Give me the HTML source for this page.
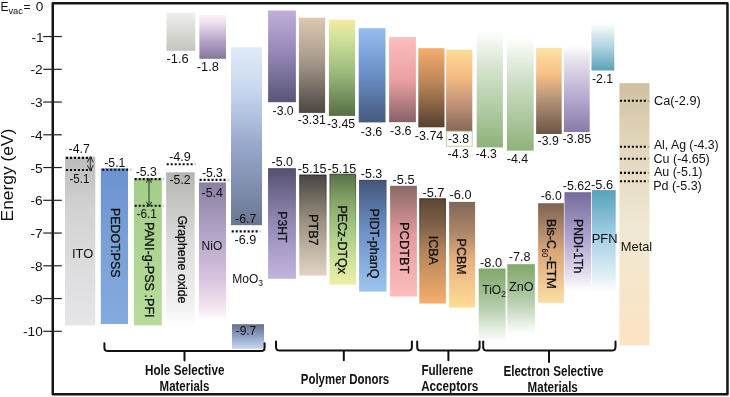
<!DOCTYPE html>
<html><head><meta charset="utf-8"><title>Energy level diagram</title>
<style>
html,body{margin:0;padding:0;background:#fff;}
svg{display:block;font-family:"Liberation Sans",Arial,Helvetica,sans-serif;}
</style></head><body>
<svg width="730" height="397" viewBox="0 0 730 397">
<defs>
<linearGradient id="g0" x1="0" y1="0" x2="0" y2="1"><stop offset="0" stop-color="#bcbcbc"/><stop offset="0.3" stop-color="#d2d2d3"/><stop offset="1" stop-color="#e6e6e8"/></linearGradient>
<linearGradient id="g1" x1="0" y1="0" x2="0" y2="1"><stop offset="0" stop-color="#6b93cf"/><stop offset="0.5" stop-color="#7aa0d6"/><stop offset="1" stop-color="#84abe0"/></linearGradient>
<linearGradient id="g2" x1="0" y1="0" x2="0" y2="1"><stop offset="0" stop-color="#a3ce88"/><stop offset="1" stop-color="#b8dc9c"/></linearGradient>
<linearGradient id="g3" x1="0" y1="0" x2="0" y2="1"><stop offset="0" stop-color="#efefef"/><stop offset="1" stop-color="#c4c4bc"/></linearGradient>
<linearGradient id="g4" x1="0" y1="0" x2="0" y2="1"><stop offset="0" stop-color="#b4b4b0"/><stop offset="0.45" stop-color="#dcdcdc"/><stop offset="0.85" stop-color="#f0f0f0"/><stop offset="1" stop-color="#ffffff"/></linearGradient>
<linearGradient id="g5" x1="0" y1="0" x2="0" y2="1"><stop offset="0" stop-color="#fdf3f8"/><stop offset="0.2" stop-color="#eadcea"/><stop offset="0.6" stop-color="#b4a2c6"/><stop offset="1" stop-color="#84779a"/></linearGradient>
<linearGradient id="g6" x1="0" y1="0" x2="0" y2="1"><stop offset="0" stop-color="#8a80a2"/><stop offset="0.35" stop-color="#b0a2c6"/><stop offset="0.7" stop-color="#d8c4e0"/><stop offset="0.9" stop-color="#f4e4f0"/><stop offset="1" stop-color="#ffffff"/></linearGradient>
<linearGradient id="g7" x1="0" y1="0" x2="0" y2="1"><stop offset="0" stop-color="#e0ebf7"/><stop offset="0.25" stop-color="#c6d6ee"/><stop offset="0.55" stop-color="#98a8cc"/><stop offset="0.8" stop-color="#7f8cac"/><stop offset="1" stop-color="#6a7690"/></linearGradient>
<linearGradient id="g8" x1="0" y1="0" x2="0" y2="1"><stop offset="0" stop-color="#647089"/><stop offset="0.4" stop-color="#8797bd"/><stop offset="1" stop-color="#c6d8f2"/></linearGradient>
<linearGradient id="g9" x1="0" y1="0" x2="0" y2="1"><stop offset="0" stop-color="#c0aed8"/><stop offset="0.45" stop-color="#9688b8"/><stop offset="1" stop-color="#595577"/></linearGradient>
<linearGradient id="g10" x1="0" y1="0" x2="0" y2="1"><stop offset="0" stop-color="#55516f"/><stop offset="0.45" stop-color="#9084b2"/><stop offset="1" stop-color="#c2b4de"/></linearGradient>
<linearGradient id="g11" x1="0" y1="0" x2="0" y2="1"><stop offset="0" stop-color="#dccab0"/><stop offset="0.45" stop-color="#a69a8c"/><stop offset="1" stop-color="#4b4641"/></linearGradient>
<linearGradient id="g12" x1="0" y1="0" x2="0" y2="1"><stop offset="0" stop-color="#474442"/><stop offset="0.45" stop-color="#9a9080"/><stop offset="1" stop-color="#e2d4c4"/></linearGradient>
<linearGradient id="g13" x1="0" y1="0" x2="0" y2="1"><stop offset="0" stop-color="#f5eba0"/><stop offset="0.2" stop-color="#cfe09a"/><stop offset="0.55" stop-color="#9cba7c"/><stop offset="1" stop-color="#566e46"/></linearGradient>
<linearGradient id="g14" x1="0" y1="0" x2="0" y2="1"><stop offset="0" stop-color="#587049"/><stop offset="0.25" stop-color="#86a668"/><stop offset="0.5" stop-color="#a6c886"/><stop offset="0.8" stop-color="#d0e49c"/><stop offset="1" stop-color="#eeeea4"/></linearGradient>
<linearGradient id="g15" x1="0" y1="0" x2="0" y2="1"><stop offset="0" stop-color="#95bdec"/><stop offset="0.45" stop-color="#6c94cc"/><stop offset="1" stop-color="#45597d"/></linearGradient>
<linearGradient id="g16" x1="0" y1="0" x2="0" y2="1"><stop offset="0" stop-color="#455579"/><stop offset="0.45" stop-color="#6c90c8"/><stop offset="1" stop-color="#9dc5ed"/></linearGradient>
<linearGradient id="g17" x1="0" y1="0" x2="0" y2="1"><stop offset="0" stop-color="#fbbdbd"/><stop offset="0.5" stop-color="#eca0a4"/><stop offset="1" stop-color="#866266"/></linearGradient>
<linearGradient id="g18" x1="0" y1="0" x2="0" y2="1"><stop offset="0" stop-color="#8a6864"/><stop offset="0.45" stop-color="#e49ca0"/><stop offset="1" stop-color="#fdbdbd"/></linearGradient>
<linearGradient id="g19" x1="0" y1="0" x2="0" y2="1"><stop offset="0" stop-color="#f5ad6d"/><stop offset="0.45" stop-color="#b88458"/><stop offset="1" stop-color="#563e2e"/></linearGradient>
<linearGradient id="g20" x1="0" y1="0" x2="0" y2="1"><stop offset="0" stop-color="#5a4634"/><stop offset="0.25" stop-color="#7e6046"/><stop offset="0.5" stop-color="#b4845a"/><stop offset="1" stop-color="#f5ad6d"/></linearGradient>
<linearGradient id="g21" x1="0" y1="0" x2="0" y2="1"><stop offset="0" stop-color="#fddd95"/><stop offset="0.35" stop-color="#f4b880"/><stop offset="0.62" stop-color="#c8987c"/><stop offset="1" stop-color="#866856"/></linearGradient>
<linearGradient id="g22" x1="0" y1="0" x2="0" y2="1"><stop offset="0" stop-color="#826658"/><stop offset="0.3" stop-color="#ae886a"/><stop offset="0.55" stop-color="#e8b080"/><stop offset="1" stop-color="#fddd95"/></linearGradient>
<linearGradient id="g23" x1="0" y1="0" x2="0" y2="1"><stop offset="0" stop-color="#ffffff"/><stop offset="0.15" stop-color="#ecf2e8"/><stop offset="0.4" stop-color="#ccdec4"/><stop offset="0.7" stop-color="#aec8a0"/><stop offset="1" stop-color="#8eb27a"/></linearGradient>
<linearGradient id="g24" x1="0" y1="0" x2="0" y2="1"><stop offset="0" stop-color="#82a86c"/><stop offset="0.3" stop-color="#9cbc8c"/><stop offset="0.6" stop-color="#c0d4b8"/><stop offset="0.85" stop-color="#e8f0e4"/><stop offset="1" stop-color="#ffffff"/></linearGradient>
<linearGradient id="g25" x1="0" y1="0" x2="0" y2="1"><stop offset="0" stop-color="#ffffff"/><stop offset="0.15" stop-color="#ecf2e8"/><stop offset="0.4" stop-color="#ccdec4"/><stop offset="0.7" stop-color="#aec8a0"/><stop offset="1" stop-color="#8eb27a"/></linearGradient>
<linearGradient id="g26" x1="0" y1="0" x2="0" y2="1"><stop offset="0" stop-color="#82a86c"/><stop offset="0.3" stop-color="#9cbc8c"/><stop offset="0.6" stop-color="#c0d4b8"/><stop offset="0.85" stop-color="#e8f0e4"/><stop offset="1" stop-color="#ffffff"/></linearGradient>
<linearGradient id="g27" x1="0" y1="0" x2="0" y2="1"><stop offset="0" stop-color="#fde3a5"/><stop offset="0.3" stop-color="#f8c088"/><stop offset="0.6" stop-color="#b49278"/><stop offset="1" stop-color="#6c5444"/></linearGradient>
<linearGradient id="g28" x1="0" y1="0" x2="0" y2="1"><stop offset="0" stop-color="#7e6250"/><stop offset="0.25" stop-color="#aa866a"/><stop offset="0.5" stop-color="#dca87c"/><stop offset="1" stop-color="#fddda5"/></linearGradient>
<linearGradient id="g29" x1="0" y1="0" x2="0" y2="1"><stop offset="0" stop-color="#ffffff"/><stop offset="0.12" stop-color="#ece8f0"/><stop offset="0.6" stop-color="#b6aace"/><stop offset="1" stop-color="#887aaa"/></linearGradient>
<linearGradient id="g30" x1="0" y1="0" x2="0" y2="1"><stop offset="0" stop-color="#766a9a"/><stop offset="0.5" stop-color="#b4a8d4"/><stop offset="0.85" stop-color="#e8e2f2"/><stop offset="1" stop-color="#ffffff"/></linearGradient>
<linearGradient id="g31" x1="0" y1="0" x2="0" y2="1"><stop offset="0" stop-color="#ffffff"/><stop offset="0.5" stop-color="#b0d4e0"/><stop offset="1" stop-color="#5aa2b6"/></linearGradient>
<linearGradient id="g32" x1="0" y1="0" x2="0" y2="1"><stop offset="0" stop-color="#56a2ba"/><stop offset="0.45" stop-color="#a4d0e4"/><stop offset="0.85" stop-color="#e4f0f6"/><stop offset="1" stop-color="#ffffff"/></linearGradient>
<linearGradient id="g33" x1="0" y1="0" x2="0" y2="1"><stop offset="0" stop-color="#cfc0a0"/><stop offset="0.2" stop-color="#e0d4b8"/><stop offset="0.55" stop-color="#f0e8d4"/><stop offset="1" stop-color="#fde3c1"/></linearGradient>
<linearGradient id="g34" x1="0" y1="0" x2="0" y2="1"><stop offset="0" stop-color="#000" stop-opacity="0.32"/><stop offset=".75" stop-color="#000" stop-opacity="0"/></linearGradient>
<linearGradient id="g35" x1="0" y1="0" x2="0" y2="1"><stop offset="0" stop-color="#000" stop-opacity="0.28"/><stop offset=".75" stop-color="#000" stop-opacity="0"/></linearGradient>
<linearGradient id="g36" x1="0" y1="0" x2="0" y2="1"><stop offset="0" stop-color="#000" stop-opacity="0.3"/><stop offset=".75" stop-color="#000" stop-opacity="0"/></linearGradient>
<linearGradient id="g37" x1="0" y1="0" x2="0" y2="1"><stop offset="0" stop-color="#000" stop-opacity="0.12"/><stop offset=".75" stop-color="#000" stop-opacity="0"/></linearGradient>
<linearGradient id="g38" x1="0" y1="0" x2="0" y2="1"><stop offset="0" stop-color="#000" stop-opacity="0.12"/><stop offset=".75" stop-color="#000" stop-opacity="0"/></linearGradient>
</defs>
<rect width="730" height="397" fill="#ffffff"/>
<rect x="65.00" y="156.80" width="30.30" height="168.60" fill="url(#g0)"/>
<rect x="100.80" y="168.30" width="27.20" height="155.70" fill="url(#g1)"/>
<rect x="134.00" y="178.30" width="27.80" height="147.10" fill="url(#g2)"/>
<rect x="166.50" y="12.50" width="28.80" height="38.30" fill="url(#g3)"/>
<rect x="166.10" y="172.30" width="28.60" height="154.70" fill="url(#g4)"/>
<rect x="199.40" y="15.00" width="26.60" height="43.80" fill="url(#g5)"/>
<rect x="199.00" y="182.40" width="27.00" height="138.60" fill="url(#g6)"/>
<rect x="231.00" y="47.30" width="31.00" height="177.90" fill="url(#g7)"/>
<rect x="232.00" y="324.20" width="32.00" height="24.60" fill="url(#g8)"/>
<rect x="268.10" y="10.50" width="27.80" height="91.70" fill="url(#g9)"/>
<rect x="268.10" y="168.20" width="27.80" height="110.60" fill="url(#g10)"/>
<rect x="298.90" y="17.70" width="26.20" height="95.20" fill="url(#g11)"/>
<rect x="299.30" y="174.60" width="27.20" height="101.00" fill="url(#g12)"/>
<rect x="328.90" y="19.70" width="26.20" height="96.20" fill="url(#g13)"/>
<rect x="329.50" y="173.80" width="26.60" height="110.90" fill="url(#g14)"/>
<rect x="358.70" y="28.20" width="26.80" height="94.20" fill="url(#g15)"/>
<rect x="359.10" y="179.90" width="27.40" height="111.70" fill="url(#g16)"/>
<rect x="389.10" y="37.10" width="26.80" height="85.10" fill="url(#g17)"/>
<rect x="390.10" y="185.80" width="26.80" height="110.70" fill="url(#g18)"/>
<rect x="418.30" y="48.20" width="26.20" height="79.10" fill="url(#g19)"/>
<rect x="419.30" y="198.30" width="26.60" height="105.20" fill="url(#g20)"/>
<rect x="446.10" y="49.80" width="26.20" height="81.50" fill="url(#g21)"/>
<rect x="449.10" y="201.90" width="26.00" height="105.70" fill="url(#g22)"/>
<rect x="476.70" y="30.00" width="26.20" height="117.40" fill="url(#g23)"/>
<rect x="478.70" y="268.50" width="26.90" height="73.50" fill="url(#g24)"/>
<rect x="506.90" y="37.00" width="26.80" height="113.60" fill="url(#g25)"/>
<rect x="507.30" y="264.20" width="27.60" height="69.80" fill="url(#g26)"/>
<rect x="536.10" y="47.90" width="25.60" height="86.10" fill="url(#g27)"/>
<rect x="538.10" y="203.20" width="25.80" height="99.70" fill="url(#g28)"/>
<rect x="563.90" y="46.00" width="25.80" height="86.00" fill="url(#g29)"/>
<rect x="564.50" y="192.20" width="26.60" height="98.80" fill="url(#g30)"/>
<rect x="591.50" y="23.00" width="22.80" height="47.50" fill="url(#g31)"/>
<rect x="591.90" y="190.10" width="23.80" height="102.90" fill="url(#g32)"/>
<rect x="619.40" y="83.20" width="30.10" height="262.00" fill="url(#g33)"/>
<path d="M299.80 275.60 V175.10 H326.00 V275.60" fill="none" stroke="url(#g34)" stroke-width="1"/>
<path d="M330.00 284.70 V174.30 H355.60 V284.70" fill="none" stroke="url(#g35)" stroke-width="1"/>
<path d="M419.80 303.50 V198.80 H445.40 V303.50" fill="none" stroke="url(#g36)" stroke-width="1"/>
<path d="M268.60 278.80 V168.70 H295.40 V278.80" fill="none" stroke="url(#g37)" stroke-width="1"/>
<path d="M359.60 291.60 V180.40 H386.00 V291.60" fill="none" stroke="url(#g38)" stroke-width="1"/>
<rect x="446.6" y="131.3" width="25.6" height="14.9" fill="#fff" stroke="#c6c8a2" stroke-width="1"/>
<rect x="52.75" y="3.2" width="674.7" height="391.1" fill="none" stroke="#161616" stroke-width="2.5" stroke-linejoin="round"/>
<path d="M43.2 36.55 H61.8" stroke="#222" stroke-width="1.2"/>
<path d="M43.2 69.30 H61.8" stroke="#222" stroke-width="1.2"/>
<path d="M43.2 102.05 H61.8" stroke="#222" stroke-width="1.2"/>
<path d="M43.2 134.80 H61.8" stroke="#222" stroke-width="1.2"/>
<path d="M43.2 167.55 H61.8" stroke="#222" stroke-width="1.2"/>
<path d="M43.2 200.30 H61.8" stroke="#222" stroke-width="1.2"/>
<path d="M43.2 233.05 H61.8" stroke="#222" stroke-width="1.2"/>
<path d="M43.2 265.80 H61.8" stroke="#222" stroke-width="1.2"/>
<path d="M43.2 298.55 H61.8" stroke="#222" stroke-width="1.2"/>
<path d="M43.2 331.30 H61.8" stroke="#222" stroke-width="1.2"/>
<path d="M66.00 157.85h2.05M69.98 157.85h2.05M73.96 157.85h2.05M77.94 157.85h2.05M81.92 157.85h2.05M85.90 157.85h2.05M89.88 157.85h2.05" stroke="#0a0a0a" stroke-width="2.1" fill="none"/>
<path d="M66.00 170.00h2.05M69.98 170.00h2.05M73.96 170.00h2.05M77.94 170.00h2.05M81.92 170.00h2.05M85.90 170.00h2.05M89.88 170.00h2.05" stroke="#0a0a0a" stroke-width="2.1" fill="none"/>
<path d="M102.20 169.70h2.05M106.18 169.70h2.05M110.16 169.70h2.05M114.14 169.70h2.05M118.12 169.70h2.05M122.10 169.70h2.05M126.08 169.70h2.05" stroke="#0a0a0a" stroke-width="2.1" fill="none"/>
<path d="M130.06 169.70h1.6" stroke="#000" stroke-opacity=".22" stroke-width="2" fill="none"/>
<path d="M134.70 179.10h2.05M138.68 179.10h2.05M142.66 179.10h2.05M146.64 179.10h2.05M150.62 179.10h2.05M154.60 179.10h2.05M158.58 179.10h2.05" stroke="#0a0a0a" stroke-width="2.1" fill="none"/>
<path d="M162.56 179.10h1.6" stroke="#000" stroke-opacity=".22" stroke-width="2" fill="none"/>
<path d="M134.70 205.70h2.05M138.68 205.70h2.05M142.66 205.70h2.05M146.64 205.70h2.05M150.62 205.70h2.05M154.60 205.70h2.05M158.58 205.70h2.05" stroke="#0a0a0a" stroke-width="2.1" fill="none"/>
<path d="M162.56 205.70h1.6" stroke="#000" stroke-opacity=".22" stroke-width="2" fill="none"/>
<path d="M166.70 164.25h2.05M170.68 164.25h2.05M174.66 164.25h2.05M178.64 164.25h2.05M182.62 164.25h2.05M186.60 164.25h2.05M190.58 164.25h2.05" stroke="#0a0a0a" stroke-width="2.1" fill="none"/>
<path d="M194.56 164.25h1.6" stroke="#000" stroke-opacity=".22" stroke-width="2" fill="none"/>
<path d="M199.60 179.90h2.05M203.58 179.90h2.05M207.56 179.90h2.05M211.54 179.90h2.05M215.52 179.90h2.05M219.50 179.90h2.05M223.48 179.90h2.05" stroke="#0a0a0a" stroke-width="2.1" fill="none"/>
<path d="M227.46 179.90h1.6" stroke="#000" stroke-opacity=".22" stroke-width="2" fill="none"/>
<path d="M231.70 231.40h2.05M235.68 231.40h2.05M239.66 231.40h2.05M243.64 231.40h2.05M247.62 231.40h2.05M251.60 231.40h2.05M255.58 231.40h2.05" stroke="#0a0a0a" stroke-width="2.1" fill="none"/>
<path d="M259.56 231.40h1.6" stroke="#000" stroke-opacity=".22" stroke-width="2" fill="none"/>
<path d="M619.95 100.80h2.05M623.93 100.80h2.05M627.91 100.80h2.05M631.89 100.80h2.05M635.87 100.80h2.05M639.85 100.80h2.05M643.83 100.80h2.05" stroke="#0a0a0a" stroke-width="2.1" fill="none"/>
<path d="M647.81 100.80h1.6" stroke="#000" stroke-opacity=".22" stroke-width="2" fill="none"/>
<path d="M619.95 146.80h2.05M623.93 146.80h2.05M627.91 146.80h2.05M631.89 146.80h2.05M635.87 146.80h2.05M639.85 146.80h2.05M643.83 146.80h2.05" stroke="#0a0a0a" stroke-width="2.1" fill="none"/>
<path d="M647.81 146.80h1.6" stroke="#000" stroke-opacity=".22" stroke-width="2" fill="none"/>
<path d="M619.95 158.70h2.05M623.93 158.70h2.05M627.91 158.70h2.05M631.89 158.70h2.05M635.87 158.70h2.05M639.85 158.70h2.05M643.83 158.70h2.05" stroke="#0a0a0a" stroke-width="2.1" fill="none"/>
<path d="M647.81 158.70h1.6" stroke="#000" stroke-opacity=".22" stroke-width="2" fill="none"/>
<path d="M619.95 172.90h2.05M623.93 172.90h2.05M627.91 172.90h2.05M631.89 172.90h2.05M635.87 172.90h2.05M639.85 172.90h2.05M643.83 172.90h2.05" stroke="#0a0a0a" stroke-width="2.1" fill="none"/>
<path d="M647.81 172.90h1.6" stroke="#000" stroke-opacity=".22" stroke-width="2" fill="none"/>
<path d="M619.95 181.20h2.05M623.93 181.20h2.05M627.91 181.20h2.05M631.89 181.20h2.05M635.87 181.20h2.05M639.85 181.20h2.05M643.83 181.20h2.05" stroke="#0a0a0a" stroke-width="2.1" fill="none"/>
<path d="M647.81 181.20h1.6" stroke="#000" stroke-opacity=".22" stroke-width="2" fill="none"/>
<path d="M90.30 156.80 V170.60 M87.30 162.20 L90.30 156.80 L93.30 162.20 M87.30 165.20 L90.30 170.60 L93.30 165.20" fill="none" stroke="#3c3c3c" stroke-width="1.05"/>
<path d="M149.00 178.40 V206.20 M146.30 182.80 L149.00 178.40 L151.70 182.80 M146.30 201.80 L149.00 206.20 L151.70 201.80" fill="none" stroke="#2f3a2f" stroke-width="1.05"/>
<path d="M104.40 343.30 V347.40 Q104.40 351.00 108.00 351.00 H261.00 Q264.60 351.00 264.60 347.40 V343.30 M184.50 351.00 V360.50" fill="none" stroke="#111" stroke-width="2" stroke-linecap="round"/>
<path d="M276.00 341.50 V347.00 Q276.00 350.60 279.60 350.60 H408.30 Q411.90 350.60 411.90 347.00 V341.50 M343.80 350.60 V360.30" fill="none" stroke="#111" stroke-width="2" stroke-linecap="round"/>
<path d="M417.20 341.50 V347.00 Q417.20 350.60 420.80 350.60 H476.00 Q479.60 350.60 479.60 347.00 V341.50 M448.40 350.60 V360.30" fill="none" stroke="#111" stroke-width="2" stroke-linecap="round"/>
<path d="M483.20 341.50 V347.00 Q483.20 350.60 486.80 350.60 H611.90 Q615.50 350.60 615.50 347.00 V341.50 M549.00 350.60 V362.00" fill="none" stroke="#111" stroke-width="2" stroke-linecap="round"/>
<text x="31.40" y="41.55" font-size="13" textLength="12.20" lengthAdjust="spacingAndGlyphs" fill="#111">-1</text>
<text x="30.50" y="74.30" font-size="13" textLength="12.20" lengthAdjust="spacingAndGlyphs" fill="#111">-2</text>
<text x="30.50" y="107.05" font-size="13" textLength="12.20" lengthAdjust="spacingAndGlyphs" fill="#111">-3</text>
<text x="30.50" y="139.80" font-size="13" textLength="12.20" lengthAdjust="spacingAndGlyphs" fill="#111">-4</text>
<text x="30.50" y="172.55" font-size="13" textLength="12.20" lengthAdjust="spacingAndGlyphs" fill="#111">-5</text>
<text x="30.50" y="205.30" font-size="13" textLength="12.20" lengthAdjust="spacingAndGlyphs" fill="#111">-6</text>
<text x="30.50" y="238.05" font-size="13" textLength="12.20" lengthAdjust="spacingAndGlyphs" fill="#111">-7</text>
<text x="30.50" y="270.80" font-size="13" textLength="12.20" lengthAdjust="spacingAndGlyphs" fill="#111">-8</text>
<text x="30.50" y="303.55" font-size="13" textLength="12.20" lengthAdjust="spacingAndGlyphs" fill="#111">-9</text>
<text x="23.10" y="336.30" font-size="13" textLength="19.60" lengthAdjust="spacingAndGlyphs" fill="#111">-10</text>
<text x="0.4" y="10.9" font-size="12" fill="#111">E<tspan font-size="9.4" dy="2.6">vac</tspan></text>
<text x="23.6" y="10.9" font-size="12" fill="#111">=</text>
<text x="35.7" y="10.9" font-size="12" fill="#111" textLength="7.6" lengthAdjust="spacingAndGlyphs">0</text>
<text transform="translate(13.30 221.40) rotate(-90)" font-size="17" textLength="92.60" lengthAdjust="spacingAndGlyphs" fill="#111">Energy (eV)</text>
<text x="166.50" y="62.90" font-size="12" textLength="22.20" lengthAdjust="spacingAndGlyphs" fill="#111">-1.6</text>
<text x="196.80" y="70.90" font-size="12" textLength="22.10" lengthAdjust="spacingAndGlyphs" fill="#111">-1.8</text>
<text x="68.60" y="152.80" font-size="12" textLength="21.10" lengthAdjust="spacingAndGlyphs" fill="#111">-4.7</text>
<text x="69.50" y="182.80" font-size="12" textLength="19.80" lengthAdjust="spacingAndGlyphs" fill="#111">-5.1</text>
<text x="104.30" y="166.70" font-size="12" textLength="21.10" lengthAdjust="spacingAndGlyphs" fill="#111">-5.1</text>
<text x="135.70" y="175.50" font-size="12" textLength="21.10" lengthAdjust="spacingAndGlyphs" fill="#111">-5.3</text>
<text x="136.50" y="218.20" font-size="12" textLength="20.30" lengthAdjust="spacingAndGlyphs" fill="#111">-6.1</text>
<text x="169.00" y="161.20" font-size="12" textLength="21.70" lengthAdjust="spacingAndGlyphs" fill="#111">-4.9</text>
<text x="169.50" y="184.00" font-size="12" textLength="21.20" lengthAdjust="spacingAndGlyphs" fill="#111">-5.2</text>
<text x="201.90" y="176.70" font-size="12" textLength="21.00" lengthAdjust="spacingAndGlyphs" fill="#111">-5.3</text>
<text x="201.50" y="196.50" font-size="12" textLength="21.40" lengthAdjust="spacingAndGlyphs" fill="#111">-5.4</text>
<text x="235.10" y="222.60" font-size="12" textLength="21.10" lengthAdjust="spacingAndGlyphs" fill="#111">-6.7</text>
<text x="234.50" y="243.70" font-size="12" textLength="21.70" lengthAdjust="spacingAndGlyphs" fill="#111">-6.9</text>
<text x="235.70" y="334.90" font-size="12" textLength="20.50" lengthAdjust="spacingAndGlyphs" fill="#111">-9.7</text>
<text x="272.60" y="115.30" font-size="12" textLength="21.00" lengthAdjust="spacingAndGlyphs" fill="#111">-3.0</text>
<text x="271.60" y="165.80" font-size="12" textLength="21.40" lengthAdjust="spacingAndGlyphs" fill="#111">-5.0</text>
<text x="297.80" y="124.40" font-size="12" textLength="28.10" lengthAdjust="spacingAndGlyphs" fill="#111">-3.31</text>
<text x="297.80" y="172.60" font-size="12" textLength="28.70" lengthAdjust="spacingAndGlyphs" fill="#111">-5.15</text>
<text x="327.00" y="127.80" font-size="12" textLength="28.10" lengthAdjust="spacingAndGlyphs" fill="#111">-3.45</text>
<text x="327.60" y="172.60" font-size="12" textLength="28.50" lengthAdjust="spacingAndGlyphs" fill="#111">-5.15</text>
<text x="360.80" y="135.50" font-size="12" textLength="21.50" lengthAdjust="spacingAndGlyphs" fill="#111">-3.6</text>
<text x="360.80" y="178.30" font-size="12" textLength="21.50" lengthAdjust="spacingAndGlyphs" fill="#111">-5.3</text>
<text x="390.00" y="135.30" font-size="12" textLength="21.60" lengthAdjust="spacingAndGlyphs" fill="#111">-3.6</text>
<text x="392.60" y="184.20" font-size="12" textLength="22.00" lengthAdjust="spacingAndGlyphs" fill="#111">-5.5</text>
<text x="414.80" y="140.00" font-size="12" textLength="28.50" lengthAdjust="spacingAndGlyphs" fill="#111">-3.74</text>
<text x="422.40" y="196.70" font-size="12" textLength="22.10" lengthAdjust="spacingAndGlyphs" fill="#111">-5.7</text>
<text x="448.00" y="143.40" font-size="12" textLength="21.00" lengthAdjust="spacingAndGlyphs" fill="#111">-3.8</text>
<text x="447.60" y="158.10" font-size="12" textLength="21.40" lengthAdjust="spacingAndGlyphs" fill="#111">-4.3</text>
<text x="449.60" y="198.90" font-size="12" textLength="21.90" lengthAdjust="spacingAndGlyphs" fill="#111">-6.0</text>
<text x="475.80" y="158.00" font-size="12" textLength="21.00" lengthAdjust="spacingAndGlyphs" fill="#111">-4.3</text>
<text x="480.10" y="266.70" font-size="12" textLength="22.10" lengthAdjust="spacingAndGlyphs" fill="#111">-8.0</text>
<text x="506.80" y="162.60" font-size="12" textLength="21.40" lengthAdjust="spacingAndGlyphs" fill="#111">-4.4</text>
<text x="508.80" y="260.60" font-size="12" textLength="21.60" lengthAdjust="spacingAndGlyphs" fill="#111">-7.8</text>
<text x="537.60" y="144.60" font-size="12" textLength="21.10" lengthAdjust="spacingAndGlyphs" fill="#111">-3.9</text>
<text x="540.70" y="200.10" font-size="12" textLength="21.00" lengthAdjust="spacingAndGlyphs" fill="#111">-6.0</text>
<text x="562.40" y="143.20" font-size="12" textLength="28.90" lengthAdjust="spacingAndGlyphs" fill="#111">-3.85</text>
<text x="562.80" y="189.50" font-size="12" textLength="28.10" lengthAdjust="spacingAndGlyphs" fill="#111">-5.62</text>
<text x="592.00" y="82.80" font-size="12" textLength="21.10" lengthAdjust="spacingAndGlyphs" fill="#111">-2.1</text>
<text x="591.00" y="188.50" font-size="12" textLength="22.10" lengthAdjust="spacingAndGlyphs" fill="#111">-5.6</text>
<text x="72.00" y="258.40" font-size="12" textLength="21.30" lengthAdjust="spacingAndGlyphs" fill="#111">ITO</text>
<text x="201.60" y="249.80" font-size="12" textLength="20.60" lengthAdjust="spacingAndGlyphs" fill="#111">NiO</text>
<text x="232.3" y="282.5" font-size="12" fill="#111">MoO<tspan font-size="8.5" dy="3">3</tspan></text>
<text x="482.3" y="294.1" font-size="12" fill="#111">TiO<tspan font-size="8.5" dy="3">2</tspan></text>
<text x="509.00" y="290.80" font-size="12" textLength="24.60" lengthAdjust="spacingAndGlyphs" fill="#111">ZnO</text>
<text x="591.70" y="243.00" font-size="12" textLength="25.80" lengthAdjust="spacingAndGlyphs" fill="#111">PFN</text>
<text x="620.80" y="251.10" font-size="12" textLength="31.40" lengthAdjust="spacingAndGlyphs" fill="#111">Metal</text>
<text x="654.10" y="105.20" font-size="12" textLength="46.60" lengthAdjust="spacingAndGlyphs" fill="#111">Ca(-2.9)</text>
<text x="653.90" y="149.40" font-size="12" textLength="64.80" lengthAdjust="spacingAndGlyphs" fill="#111">Al, Ag (-4.3)</text>
<text x="653.60" y="162.50" font-size="12" textLength="56.20" lengthAdjust="spacingAndGlyphs" fill="#111">Cu (-4.65)</text>
<text x="653.90" y="176.20" font-size="12" textLength="48.60" lengthAdjust="spacingAndGlyphs" fill="#111">Au (-5.1)</text>
<text x="653.20" y="190.30" font-size="12" textLength="48.60" lengthAdjust="spacingAndGlyphs" fill="#111">Pd (-5.3)</text>
<text transform="translate(110.60 208.00) rotate(90)" font-size="12.6" stroke="#111" stroke-width="0.3" textLength="69.60" lengthAdjust="spacingAndGlyphs" fill="#111">PEDOT:PSS</text>
<text transform="translate(144.60 222.00) rotate(90)" font-size="12.6" stroke="#111" stroke-width="0.3" textLength="95.60" lengthAdjust="spacingAndGlyphs" fill="#111">PANI-g-PSS :PFI</text>
<text transform="translate(178.00 215.50) rotate(90)" font-size="12.6" stroke="#111" stroke-width="0.3" textLength="88.00" lengthAdjust="spacingAndGlyphs" fill="#111">Graphene oxide</text>
<text transform="translate(278.40 211.20) rotate(90)" font-size="12.6" stroke="#111" stroke-width="0.3" textLength="31.40" lengthAdjust="spacingAndGlyphs" fill="#111">P3HT</text>
<text transform="translate(309.00 214.00) rotate(90)" font-size="12.6" stroke="#111" stroke-width="0.3" textLength="31.60" lengthAdjust="spacingAndGlyphs" fill="#111">PTB7</text>
<text transform="translate(338.00 205.50) rotate(90)" font-size="12.6" stroke="#111" stroke-width="0.3" textLength="68.40" lengthAdjust="spacingAndGlyphs" fill="#111">PECz-DTQx</text>
<text transform="translate(369.70 208.60) rotate(90)" font-size="12.6" stroke="#111" stroke-width="0.3" textLength="69.80" lengthAdjust="spacingAndGlyphs" fill="#111">PIDT-phanQ</text>
<text transform="translate(399.90 222.00) rotate(90)" font-size="12.6" stroke="#111" stroke-width="0.3" textLength="51.60" lengthAdjust="spacingAndGlyphs" fill="#111">PCDTBT</text>
<text transform="translate(428.80 235.70) rotate(90)" font-size="12.6" stroke="#111" stroke-width="0.3" textLength="29.30" lengthAdjust="spacingAndGlyphs" fill="#111">ICBA</text>
<text transform="translate(457.40 238.60) rotate(90)" font-size="12.6" stroke="#111" stroke-width="0.3" textLength="36.00" lengthAdjust="spacingAndGlyphs" fill="#111">PCBM</text>
<text transform="translate(573.60 219.00) rotate(90)" font-size="12.6" stroke="#111" stroke-width="0.3" textLength="54.20" lengthAdjust="spacingAndGlyphs" fill="#111">PNDI-1Th</text>
<text transform="translate(547.20 219.00) rotate(90)" font-size="12.6" stroke="#111" stroke-width="0.3" textLength="29.80" lengthAdjust="spacingAndGlyphs" fill="#111">Bis-C</text>
<text transform="translate(542.40 248.60) rotate(90)" font-size="9" textLength="8.60" lengthAdjust="spacingAndGlyphs" fill="#000">60</text>
<text transform="translate(547.20 256.20) rotate(90)" font-size="12.6" stroke="#111" stroke-width="0.3" textLength="32.80" lengthAdjust="spacingAndGlyphs" fill="#111">-ETM</text>
<text x="145.00" y="374.80" font-size="14" font-weight="bold" textLength="79.40" lengthAdjust="spacingAndGlyphs" fill="#111">Hole Selective</text>
<text x="159.60" y="391.20" font-size="14" font-weight="bold" textLength="49.80" lengthAdjust="spacingAndGlyphs" fill="#111">Materials</text>
<text x="300.80" y="384.00" font-size="14" font-weight="bold" textLength="88.40" lengthAdjust="spacingAndGlyphs" fill="#111">Polymer Donors</text>
<text x="421.40" y="375.20" font-size="14" font-weight="bold" textLength="51.80" lengthAdjust="spacingAndGlyphs" fill="#111">Fullerene</text>
<text x="421.20" y="390.70" font-size="14" font-weight="bold" textLength="57.00" lengthAdjust="spacingAndGlyphs" fill="#111">Acceptors</text>
<text x="503.40" y="375.70" font-size="14" font-weight="bold" textLength="100.20" lengthAdjust="spacingAndGlyphs" fill="#111">Electron Selective</text>
<text x="527.60" y="391.90" font-size="14" font-weight="bold" textLength="50.20" lengthAdjust="spacingAndGlyphs" fill="#111">Materials</text>
</svg>
</body></html>
